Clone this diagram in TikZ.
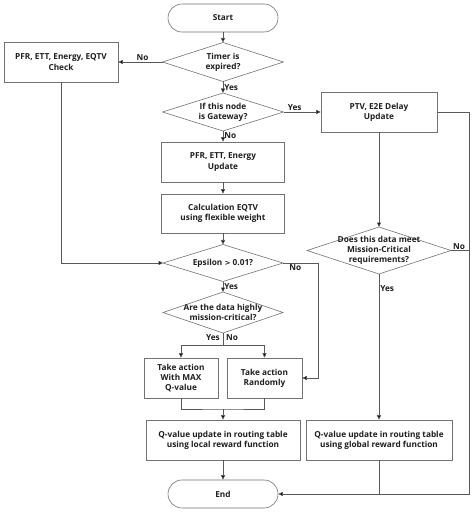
\documentclass[tikz,border=0pt]{standalone}
\usepackage{fontspec}
\setmainfont{Open Sans}
\usetikzlibrary{shapes.geometric,arrows.meta}
\begin{document}
\begin{tikzpicture}[x=1bp,y=-1bp,
  font=\fontsize{8.3}{10.3}\selectfont\bfseries,
  every node/.style={text=black!88},
  box/.style={draw=black!55,line width=0.6bp,rectangle,align=center,inner sep=1bp},
  term/.style={draw=black!55,line width=0.6bp,rectangle,rounded corners=14bp,minimum width=110bp,minimum height=28bp,align=center},
  dia/.style={draw=black!55,line width=0.6bp,diamond,inner sep=0pt,outer sep=0pt},
  txt/.style={align=center,inner sep=0pt},
  lbl/.style={inner sep=1bp},
  conn/.style={draw=black!65,line width=0.6bp},
  arr/.style={conn,-{Triangle[length=4.5bp,width=4bp,fill=black]}}]
\fill[white] (0,0) rectangle (474,512);
% nodes
\node[term] (start) at (223,18) {Start};
\node[dia,minimum width=121bp,minimum height=39bp] (d1) at (223,62) {};
\node[txt] (d1t) at (d1) {Timer is\\expired?};
\node[box,minimum width=114bp,minimum height=40bp] (chk) at (61,62) {PFR, ETT, Energy, EQTV\\Check};
\node[dia,minimum width=121bp,minimum height=38bp] (d2) at (223,112) {};
\node[txt] (d2t) at (d2) {If this node\\is Gateway?};
\node[box,minimum width=116bp,minimum height=40bp] (ptv) at (379,112) {PTV, E2E Delay\\Update};
\node[box,minimum width=123bp,minimum height=40bp] (upd) at (223,162) {PFR, ETT, Energy\\Update};
\node[box,minimum width=123bp,minimum height=39bp] (calc) at (223,213.5) {Calculation EQTV\\using flexible weight};
\node[dia,minimum width=120bp,minimum height=37bp] (d3) at (223,263) {};
\node[txt] (d3t) at (d3) {Epsilon {\fontspec{DejaVu Sans}\bfseries\fontsize{7.2}{10}\selectfont >} 0.01?};
\node[dia,minimum width=120bp,minimum height=41bp] (d4) at (223,312.5) {};
\node[txt] (d4t) at (d4) {Are the data highly\\mission-critical?};
\node[box,minimum width=74bp,minimum height=40bp] (max) at (181,378) {Take action\\With MAX\\Q-value};
\node[box,minimum width=75bp,minimum height=40bp] (rnd) at (264.5,378) {Take action\\Randomly};
\node[box,minimum width=154bp,minimum height=40bp] (ql) at (223,440) {Q-value update in routing table\\using local reward function};
\node[term] (end) at (223,494) {End};
\node[dia,minimum width=144bp,minimum height=47bp] (d5) at (379,250.5) {};
\node[txt] (d5t) at (d5) {Does this data meet\\Mission-Critical\\requirements?};
\node[box,minimum width=146bp,minimum height=40bp] (qg) at (379,440) {Q-value update in routing table\\using global reward function};
% helper coordinates
\coordinate (epsr) at (318,263);
\coordinate (split) at (223,345);
\coordinate (join) at (223,409);
\coordinate (rbus) at (469,112);
% connectors
\draw[arr] (start) -- (d1);
\draw[arr] (d1.west) -- node[lbl,above,pos=0.45] (n1) {No} (chk.east);
\draw[arr] (d1.south) -- node[lbl,right,pos=0.5] (y1) {Yes} (d2.north);
\draw[arr] (d2.east) -- node[lbl,above,pos=0.3] (y2) {Yes} (ptv.west);
\draw[arr] (d2.south) -- node[lbl,right,pos=0.45] (n2) {No} (upd.north);
\draw[arr] (upd) -- (calc);
\draw[arr] (calc) -- (d3);
\draw[arr] (chk.south) |- (d3.west);
\draw[conn] (d3.east) -- node[lbl,below,pos=0.35] (n3) {No} (epsr);
\draw[arr] (epsr) |- (rnd.east);
\draw[arr] (d3.south) -- node[lbl,right,pos=0.45] (y3) {Yes} (d4.north);
\draw[conn] (d4.south) -- (split);
\node[lbl,left] (y4) at (221,338) {Yes};
\node[lbl,right] (n4) at (225,338) {No};
\draw[arr] (split) -| (max.north);
\draw[arr] (split) -| (rnd.north);
\draw[conn] (max.south) |- (join) -| (rnd.south);
\draw[arr] (join) -- (ql.north);
\draw[arr] (ql) -- (end);
\draw[arr] (ptv) -- (d5.north);
\draw[arr] (ptv.east) -- (rbus) |- (end.east);
\draw[conn] (d5.east) -- node[lbl,above,pos=0.45] (n5) {No} (d5.east -| rbus);
\draw[arr] (d5.south) -- node[lbl,right,pos=0.1] (y5) {Yes} (qg.north);
\draw[conn] (qg.south) -- (qg.south |- end.east);
\end{tikzpicture}
\end{document}
